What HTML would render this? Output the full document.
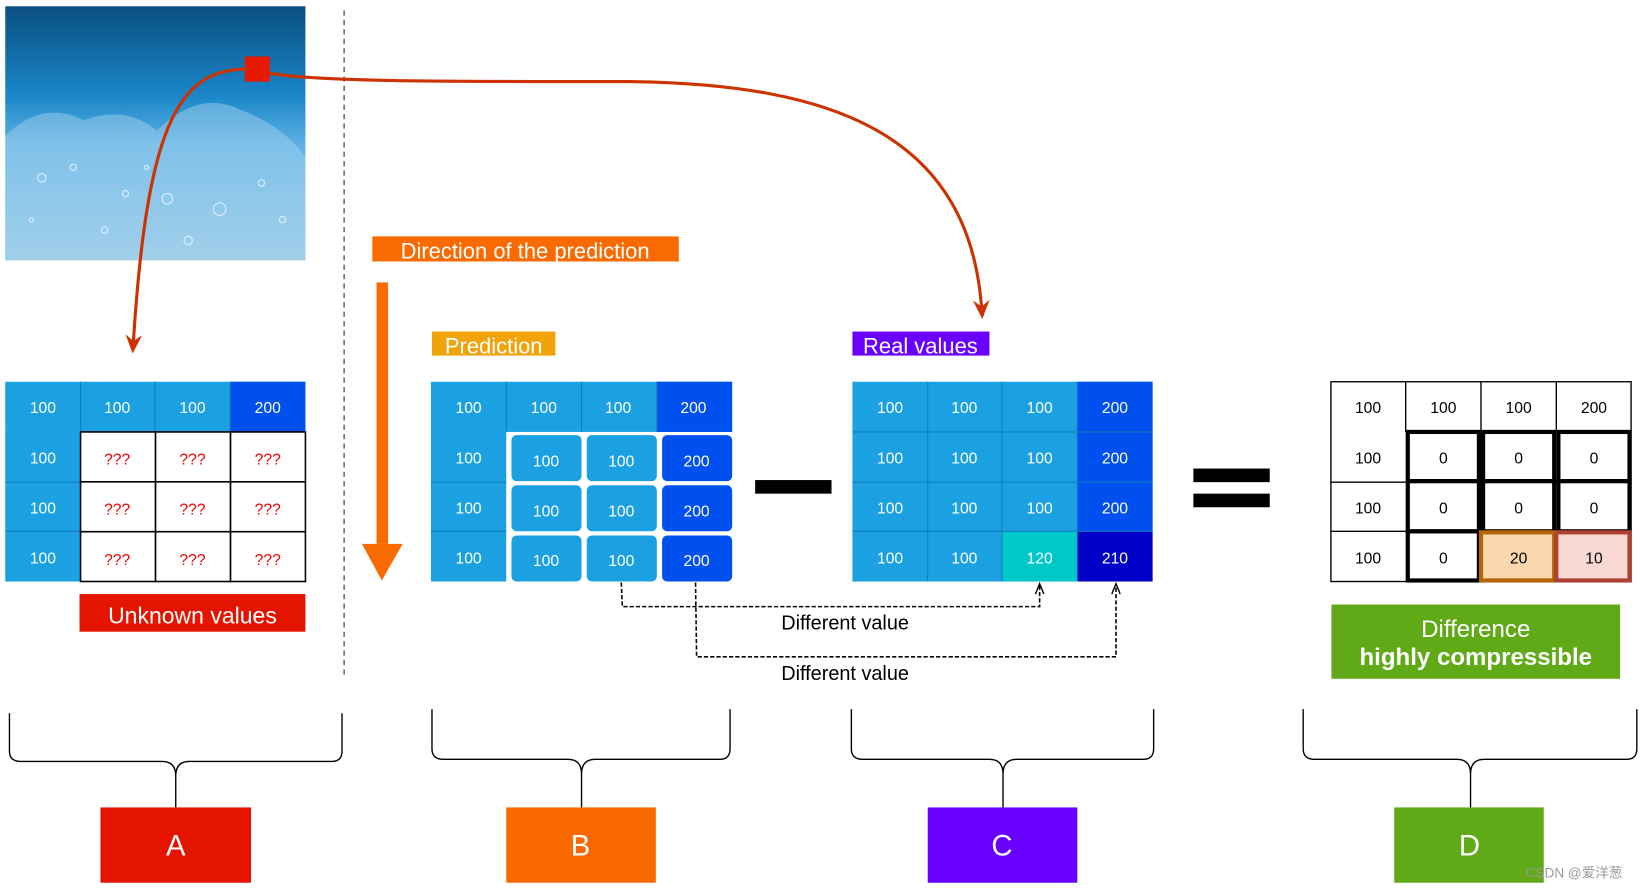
<!DOCTYPE html>
<html><head><meta charset="utf-8"><style>
html,body{margin:0;padding:0;background:#fff;}
svg{display:block}
text{font-family:"Liberation Sans Narrow","Liberation Sans",sans-serif;}
</style></head><body>
<svg width="1640" height="889" viewBox="0 0 1568 850" xmlns="http://www.w3.org/2000/svg">
<defs>
<linearGradient id="wg" x1="0" y1="0" x2="0" y2="1">
<stop offset="0" stop-color="#0a4f80"/><stop offset="0.35" stop-color="#1a86c8"/><stop offset="0.55" stop-color="#5fb2e4"/><stop offset="1" stop-color="#9bcbe6"/>
</linearGradient>
<marker id="ah" markerWidth="18" markerHeight="16" refX="15" refY="8" orient="auto" markerUnits="userSpaceOnUse"><path d="M0,0 L18,8 L0,16 L6,8 Z" fill="#cc3300"/></marker>
</defs>
<rect x="5" y="6" width="287" height="243" fill="url(#wg)"/>
<path d="M5,130 Q40,95 80,115 Q120,100 150,125 Q190,85 230,105 Q270,120 292,150 L292,249 L5,249 Z" fill="#a8d4ef" opacity="0.45"/>
<g fill="none" stroke="#e6f4ff" stroke-width="1.2" opacity="0.8">
<circle cx="40" cy="170" r="4"/><circle cx="70" cy="160" r="3"/><circle cx="120" cy="185" r="3"/><circle cx="160" cy="190" r="5"/><circle cx="210" cy="200" r="6"/><circle cx="250" cy="175" r="3"/><circle cx="100" cy="220" r="3"/><circle cx="180" cy="230" r="4"/><circle cx="270" cy="210" r="3"/><circle cx="30" cy="210" r="2"/><circle cx="140" cy="160" r="2"/>
</g>
<rect x="234" y="54" width="24" height="24" fill="#e61a00"/>
<line x1="329" y1="10" x2="329" y2="645" stroke="#555" stroke-width="1.3" stroke-dasharray="5,4"/>
<path d="M236,66 C170,66 140,120 127,335" fill="none" stroke="#cc3300" stroke-width="3" marker-end="url(#ah)"/>
<path d="M258,70 C300,78 420,78 600,78 C800,80 930,130 939,302" fill="none" stroke="#cc3300" stroke-width="3" marker-end="url(#ah)"/>
<rect x="356" y="226" width="293" height="24" fill="#f96a00"/>
<text x="502" y="247" fill="#fff" font-size="21" text-anchor="middle">Direction of the prediction</text>
<rect x="360" y="270" width="11" height="250" fill="#f96a00"/>
<path d="M346,520 L385,520 L365,555 Z" fill="#f96a00"/>
<rect x="413" y="317" width="118" height="23" fill="#f0a30a"/>
<text x="472" y="338" fill="#fff" font-size="21" text-anchor="middle">Prediction</text>
<rect x="815" y="317" width="131" height="23" fill="#6a00ff"/>
<text x="880" y="338" fill="#fff" font-size="21" text-anchor="middle">Real values</text>

<g font-size="15" text-anchor="middle">
<rect x="5" y="365" width="287" height="48" fill="#1ba1e2"/>
<rect x="220" y="365" width="72" height="48" fill="#0050ef"/>
<rect x="5" y="413" width="72" height="143" fill="#1ba1e2"/>
<g stroke="#0e7cbf" stroke-width="1"><line x1="77" y1="365" x2="77" y2="413"/><line x1="148" y1="365" x2="148" y2="413"/><line x1="220" y1="365" x2="220" y2="413"/><line x1="5" y1="461" x2="77" y2="461"/><line x1="5" y1="508" x2="77" y2="508"/></g>
<g fill="#fff" stroke="#000" stroke-width="1.5">
<rect x="77" y="413" width="71.7" height="47.7"/><rect x="148.7" y="413" width="71.7" height="47.7"/><rect x="220.4" y="413" width="71.6" height="47.7"/>
<rect x="77" y="460.7" width="71.7" height="47.7"/><rect x="148.7" y="460.7" width="71.7" height="47.7"/><rect x="220.4" y="460.7" width="71.6" height="47.7"/>
<rect x="77" y="508.4" width="71.7" height="47.6"/><rect x="148.7" y="508.4" width="71.7" height="47.6"/><rect x="220.4" y="508.4" width="71.6" height="47.6"/>
</g>
<g fill="#fff"><text x="41" y="395">100</text><text x="112" y="395">100</text><text x="184" y="395">100</text><text x="256" y="395">200</text>
<text x="41" y="443">100</text><text x="41" y="491">100</text><text x="41" y="539">100</text></g>
<g fill="#e00"><text x="112" y="444">???</text><text x="184" y="444">???</text><text x="256" y="444">???</text>
<text x="112" y="492">???</text><text x="184" y="492">???</text><text x="256" y="492">???</text>
<text x="112" y="540">???</text><text x="184" y="540">???</text><text x="256" y="540">???</text></g>
</g>
<rect x="76" y="568" width="216" height="36" fill="#e51400"/>
<text x="184" y="596" fill="#fff" font-size="22" text-anchor="middle">Unknown values</text>

<g font-size="15" text-anchor="middle">
<rect x="412" y="365" width="288" height="48" fill="#1ba1e2"/>
<rect x="628" y="365" width="72" height="48" fill="#0050ef"/>
<rect x="412" y="413" width="72" height="143" fill="#1ba1e2"/>
<g stroke="#0e7cbf" stroke-width="1"><line x1="484" y1="365" x2="484" y2="413"/><line x1="556" y1="365" x2="556" y2="413"/><line x1="628" y1="365" x2="628" y2="413"/><line x1="412" y1="461" x2="484" y2="461"/><line x1="412" y1="508" x2="484" y2="508"/></g>
<g fill="#1ba1e2"><rect x="489" y="416" width="67" height="44" rx="5"/><rect x="561" y="416" width="67" height="44" rx="5"/>
<rect x="489" y="464" width="67" height="44" rx="5"/><rect x="561" y="464" width="67" height="44" rx="5"/>
<rect x="489" y="512" width="67" height="44" rx="5"/><rect x="561" y="512" width="67" height="44" rx="5"/></g>
<g fill="#0050ef"><rect x="633" y="416" width="67" height="44" rx="5"/><rect x="633" y="464" width="67" height="44" rx="5"/><rect x="633" y="512" width="67" height="44" rx="5"/></g>
<g fill="#fff"><text x="448" y="395">100</text><text x="520" y="395">100</text><text x="591" y="395">100</text><text x="663" y="395">200</text>
<text x="448" y="443">100</text><text x="448" y="491">100</text><text x="448" y="539">100</text>
<text x="522" y="446">100</text><text x="594" y="446">100</text><text x="666" y="446">200</text>
<text x="522" y="494">100</text><text x="594" y="494">100</text><text x="666" y="494">200</text>
<text x="522" y="541">100</text><text x="594" y="541">100</text><text x="666" y="541">200</text></g>
</g>
<rect x="722" y="459" width="73" height="13" fill="#000"/>

<g font-size="15" text-anchor="middle">
<rect x="815" y="365" width="287" height="191" fill="#1ba1e2"/>
<rect x="1030" y="365" width="72" height="143" fill="#0050ef"/>
<rect x="958" y="508" width="72" height="48" fill="#00c8c8"/>
<rect x="1030" y="508" width="72" height="48" fill="#0000c8"/>
<g stroke="#0e7cbf" stroke-width="1"><line x1="887" y1="365" x2="887" y2="556"/><line x1="958" y1="365" x2="958" y2="556"/><line x1="1030" y1="365" x2="1030" y2="556"/><line x1="815" y1="413" x2="1102" y2="413"/><line x1="815" y1="461" x2="1102" y2="461"/><line x1="815" y1="508" x2="1102" y2="508"/></g>
<g fill="#fff">
<text x="851" y="395">100</text><text x="922" y="395">100</text><text x="994" y="395">100</text><text x="1066" y="395">200</text>
<text x="851" y="443">100</text><text x="922" y="443">100</text><text x="994" y="443">100</text><text x="1066" y="443">200</text>
<text x="851" y="491">100</text><text x="922" y="491">100</text><text x="994" y="491">100</text><text x="1066" y="491">200</text>
<text x="851" y="539">100</text><text x="922" y="539">100</text><text x="994" y="539">120</text><text x="1066" y="539">210</text></g>
</g>
<g fill="none" stroke="#000" stroke-width="1.5" stroke-dasharray="4,2">
<path d="M594,557 L595,580 L994,580 L994,560"/>
<path d="M665,557 L666,628 L1067,628 L1067,560"/>
</g>
<path d="M990,568 L994,558 L998,568" fill="none" stroke="#000" stroke-width="1.3"/>
<path d="M1063,568 L1067,558 L1071,568" fill="none" stroke="#000" stroke-width="1.3"/>
<text x="808" y="602" font-size="19" text-anchor="middle" fill="#000">Different value</text>
<text x="808" y="650" font-size="19" text-anchor="middle" fill="#000">Different value</text>

<rect x="1141" y="448" width="73" height="13" fill="#000"/>
<rect x="1141" y="472" width="73" height="13" fill="#000"/>

<g font-size="15" text-anchor="middle">
<rect x="1272.5" y="365" width="287" height="191" fill="#fff" stroke="#000" stroke-width="1.3"/>
<g stroke="#000" stroke-width="1.3"><line x1="1344" y1="365" x2="1344" y2="413"/><line x1="1416" y1="365" x2="1416" y2="413"/><line x1="1488" y1="365" x2="1488" y2="413"/><line x1="1272" y1="461" x2="1344" y2="461"/><line x1="1272" y1="508" x2="1344" y2="508"/></g>
<rect x="1486" y="508" width="72" height="48" fill="#fad9d5"/>
<rect x="1414" y="508" width="72" height="48" fill="#fad7ac"/>
<g fill="none" stroke="#000" stroke-width="4">
<rect x="1346" y="413" width="68" height="47"/><rect x="1418" y="413" width="68" height="47"/><rect x="1490" y="413" width="68" height="47"/>
<rect x="1346" y="460" width="68" height="48"/><rect x="1418" y="460" width="68" height="48"/><rect x="1490" y="460" width="68" height="48"/>
<rect x="1346" y="508" width="68" height="47"/></g>
<rect x="1416" y="509" width="70" height="46" fill="none" stroke="#b46504" stroke-width="4"/>
<rect x="1488" y="509" width="70" height="46" fill="none" stroke="#ae4132" stroke-width="4"/>
<g fill="#000"><text x="1308" y="395">100</text><text x="1380" y="395">100</text><text x="1452" y="395">100</text><text x="1524" y="395">200</text>
<text x="1308" y="443">100</text><text x="1380" y="443">0</text><text x="1452" y="443">0</text><text x="1524" y="443">0</text>
<text x="1308" y="491">100</text><text x="1380" y="491">0</text><text x="1452" y="491">0</text><text x="1524" y="491">0</text>
<text x="1308" y="539">100</text><text x="1380" y="539">0</text><text x="1452" y="539">20</text><text x="1524" y="539">10</text></g>
</g>
<rect x="1273" y="578" width="276" height="71" fill="#60a917"/>
<text x="1411" y="609" fill="#fff" font-size="23" text-anchor="middle">Difference</text>
<text x="1411" y="636" fill="#fff" font-size="23" font-weight="bold" text-anchor="middle">highly compressible</text>

<g fill="none" stroke="#000" stroke-width="1.3">
<path d="M9,682 L9,718 Q9,728 20,728 L155,728 Q168,728 168,742 L168,772 M168,742 Q168,728 181,728 L317,728 Q327,728 327,718 L327,682"/>
<path d="M413,678 L413,716 Q413,726 424,726 L543,726 Q556,726 556,740 L556,772 M556,740 Q556,726 569,726 L688,726 Q698,726 698,716 L698,678"/>
<path d="M814,678 L814,716 Q814,726 825,726 L946,726 Q959,726 959,740 L959,772 M959,740 Q959,726 972,726 L1093,726 Q1103,726 1103,716 L1103,678"/>
<path d="M1246,678 L1246,716 Q1246,726 1257,726 L1393,726 Q1406,726 1406,740 L1406,772 M1406,740 Q1406,726 1419,726 L1555,726 Q1565,726 1565,716 L1565,678"/>
</g>
<rect x="96" y="772" width="144" height="72" fill="#e51400"/>
<rect x="484" y="772" width="143" height="72" fill="#fa6800"/>
<rect x="887" y="772" width="143" height="72" fill="#6a00ff"/>
<rect x="1333" y="772" width="143" height="72" fill="#60a917"/>
<g fill="#fff" font-size="28" text-anchor="middle">
<text x="168" y="818">A</text><text x="555" y="818">B</text><text x="958" y="818">C</text><text x="1405" y="818">D</text></g>
<text x="1505" y="839" fill="#999" font-size="13" text-anchor="middle" font-family="Liberation Sans, Noto Sans CJK SC, sans-serif">CSDN @爱洋葱</text>
</svg>
</body></html>
